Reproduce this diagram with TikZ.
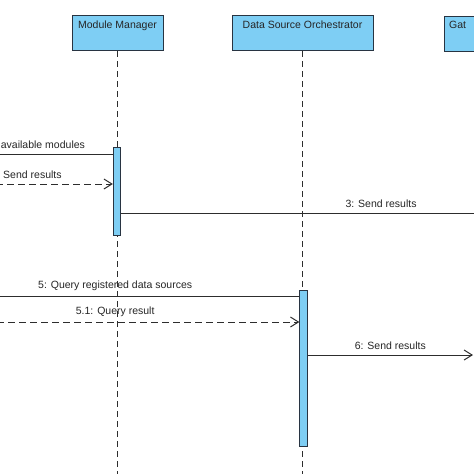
\documentclass[tikz,border=0pt]{standalone}
\usepackage{fontspec}
\setmainfont{Liberation Sans}
\usepackage{tikz}
\usetikzlibrary{shapes, arrows.meta, positioning}
\usepackage{xcolor}

\definecolor{headblue}{RGB}{126,206,244}
\definecolor{edgedark}{RGB}{40,52,66}
\definecolor{linegray}{RGB}{45,45,45}

\tikzset{
  head/.style={draw=edgedark, fill=headblue, line width=0.9pt,
    minimum height=35pt, inner sep=0pt},
  activation/.style={draw=edgedark, fill=headblue, line width=0.9pt,
    minimum width=7.4pt, inner sep=0pt},
  lifeline/.style={draw=linegray, line width=1.1pt, dash pattern=on 6pt off 4pt},
  msg/.style={draw=linegray, line width=1pt},
  reply/.style={msg, dash pattern=on 7pt off 4pt},
  openhead/.style={-{Straight Barb[length=8pt,width=10pt]}}
}

\begin{document}
\begin{tikzpicture}[x=1pt, y=-1pt, font=\fontsize{10.5}{12}\selectfont, text=black!85]

\useasboundingbox[fill=white] (0,0) rectangle (474,474);

% Lifeline heads
\node[head,
    minimum width=91pt,
    label={[anchor=north, inner sep=5pt]north:Module Manager}
] (mm) at (117.5,33.2) {};

\node[head,
    minimum width=141pt,
    label={[anchor=north, inner sep=5pt]north:Data Source Orchestrator}
] (dso) at (302.5,33.2) {};

\node[head,
    anchor=north west,
    minimum width=100pt,
    label={[anchor=north west, inner sep=5pt]north west:Gat}
] (gw) at (444,15.7) {};

% Lifelines
\coordinate (bottom) at (0,474);
\draw[lifeline] (mm.south) -- (mm.south |- bottom);
\draw[lifeline] (dso.south) -- (dso.south |- bottom);

% Activations
\node[activation, minimum height=87.3pt] (act1) at (117,191.4) {};
\node[activation, minimum height=156.7pt] (act2) at (303.5,368.3) {};

% Free ends of the messages
\coordinate (m1s) at (-27,154);
\coordinate (m2s) at (-48,184);
\coordinate (m3e) at (641,213);
\coordinate (m5s) at (-69,296);
\coordinate (m51s) at (-69,322);
\coordinate (m6e) at (473,355);

% Arrows
\draw[msg] (m1s) -- node[above, inner sep=4.5pt]{available modules} (m1s -| act1.west);
\draw[reply, openhead] (m2s) -- node[above, inner sep=4.5pt]{Send results} (m2s -| act1.west);
\draw[msg] (act1.east |- m3e) -- node[above, inner sep=4.5pt]{3: Send results} (m3e);
\draw[msg] (m5s) -- node[above, inner sep=4.5pt]{5: Query registered data sources} (m5s -| act2.west);
\draw[reply, openhead] (m51s) -- node[above, inner sep=4.5pt]{5.1: Query result} (m51s -| act2.west);
\draw[msg, openhead] (act2.east |- m6e) -- node[above, inner sep=4.5pt]{6: Send results} (m6e);
\end{tikzpicture}
\end{document}
